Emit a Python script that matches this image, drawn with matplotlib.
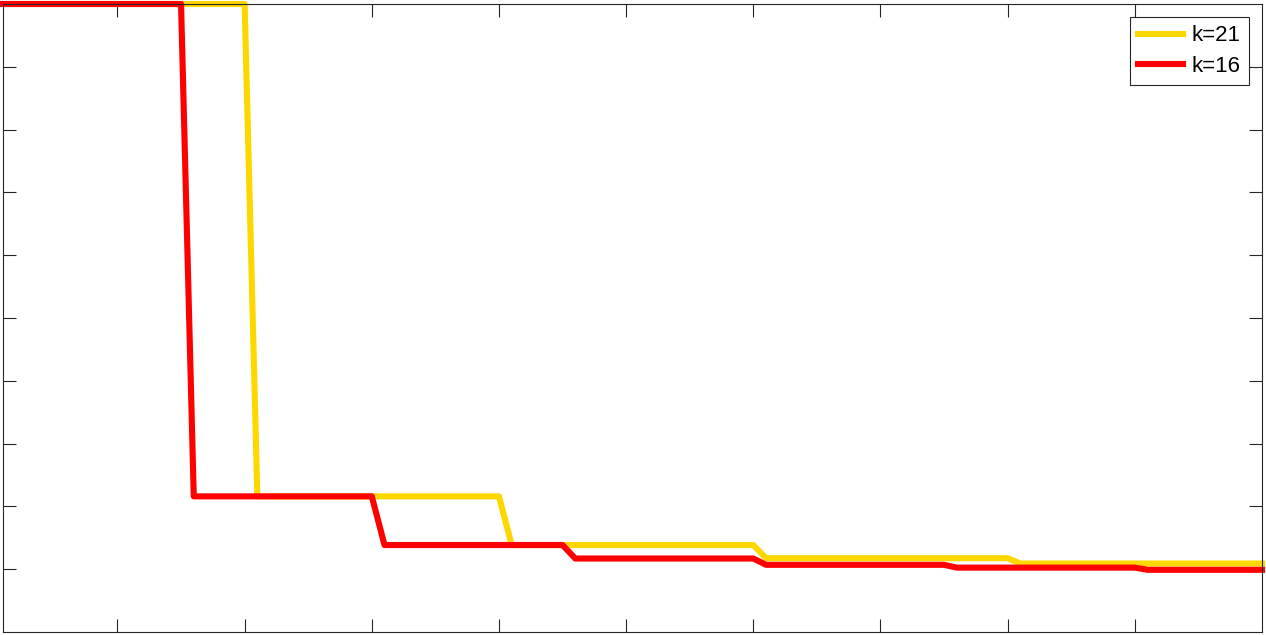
import matplotlib.pyplot as plt

plt.rcParams['font.family'] = ['Liberation Sans', 'DejaVu Sans']

# corner points of the two step curves (iteration, value)
k21_x = [1, 20, 21, 40, 41, 60, 61, 80, 81, 100]
k21_y = [1.0, 1.0, 0.216, 0.216, 0.1385, 0.1385, 0.1175, 0.1175, 0.109, 0.109]

k16_x = [1, 15, 16, 30, 31, 45, 46, 60, 61, 75, 76, 90, 91, 100]
k16_y = [1.0, 1.0, 0.216, 0.216, 0.1385, 0.1385, 0.117, 0.117,
         0.107, 0.107, 0.1025, 0.1025, 0.099, 0.099]

labels = ["k=21", "k=16"]
xticks = [10, 20, 30, 40, 50, 60, 70, 80, 90]
yticks = [0.1, 0.2, 0.3, 0.4, 0.5, 0.6, 0.7, 0.8, 0.9]

W, H = 1266, 635
fig = plt.figure(figsize=(W / 100, H / 100), dpi=100)
ax = fig.add_axes([3 / W, 3 / H, 1259 / W, 628 / H])

ax.plot(k21_x, k21_y, color="#FFD700", lw=4.4, label=labels[0], clip_on=False)
ax.plot(k16_x, k16_y, color="#FF0000", lw=4.4, label=labels[1], clip_on=False)

ax.set_xlim(1, 100)
ax.set_ylim(0, 1)
ax.set_xticks(xticks)
ax.set_yticks(yticks)
ax.set_xticklabels([])
ax.set_yticklabels([])
axcol = "#262626"
ax.tick_params(direction="in", length=9.4, width=0.8, color=axcol,
               top=True, right=True)
for s in ax.spines.values():
    s.set_color(axcol)
    s.set_linewidth(0.8)

leg = ax.legend(loc="upper right", bbox_to_anchor=(0.9897, 0.9793),
                borderaxespad=0, fontsize=16, fancybox=False, framealpha=1,
                edgecolor=axcol, handlelength=2.0, handletextpad=0.4,
                borderpad=0.38, labelspacing=0.42)
leg.get_frame().set_linewidth(0.8)

fig.savefig("out.png", dpi=100)
